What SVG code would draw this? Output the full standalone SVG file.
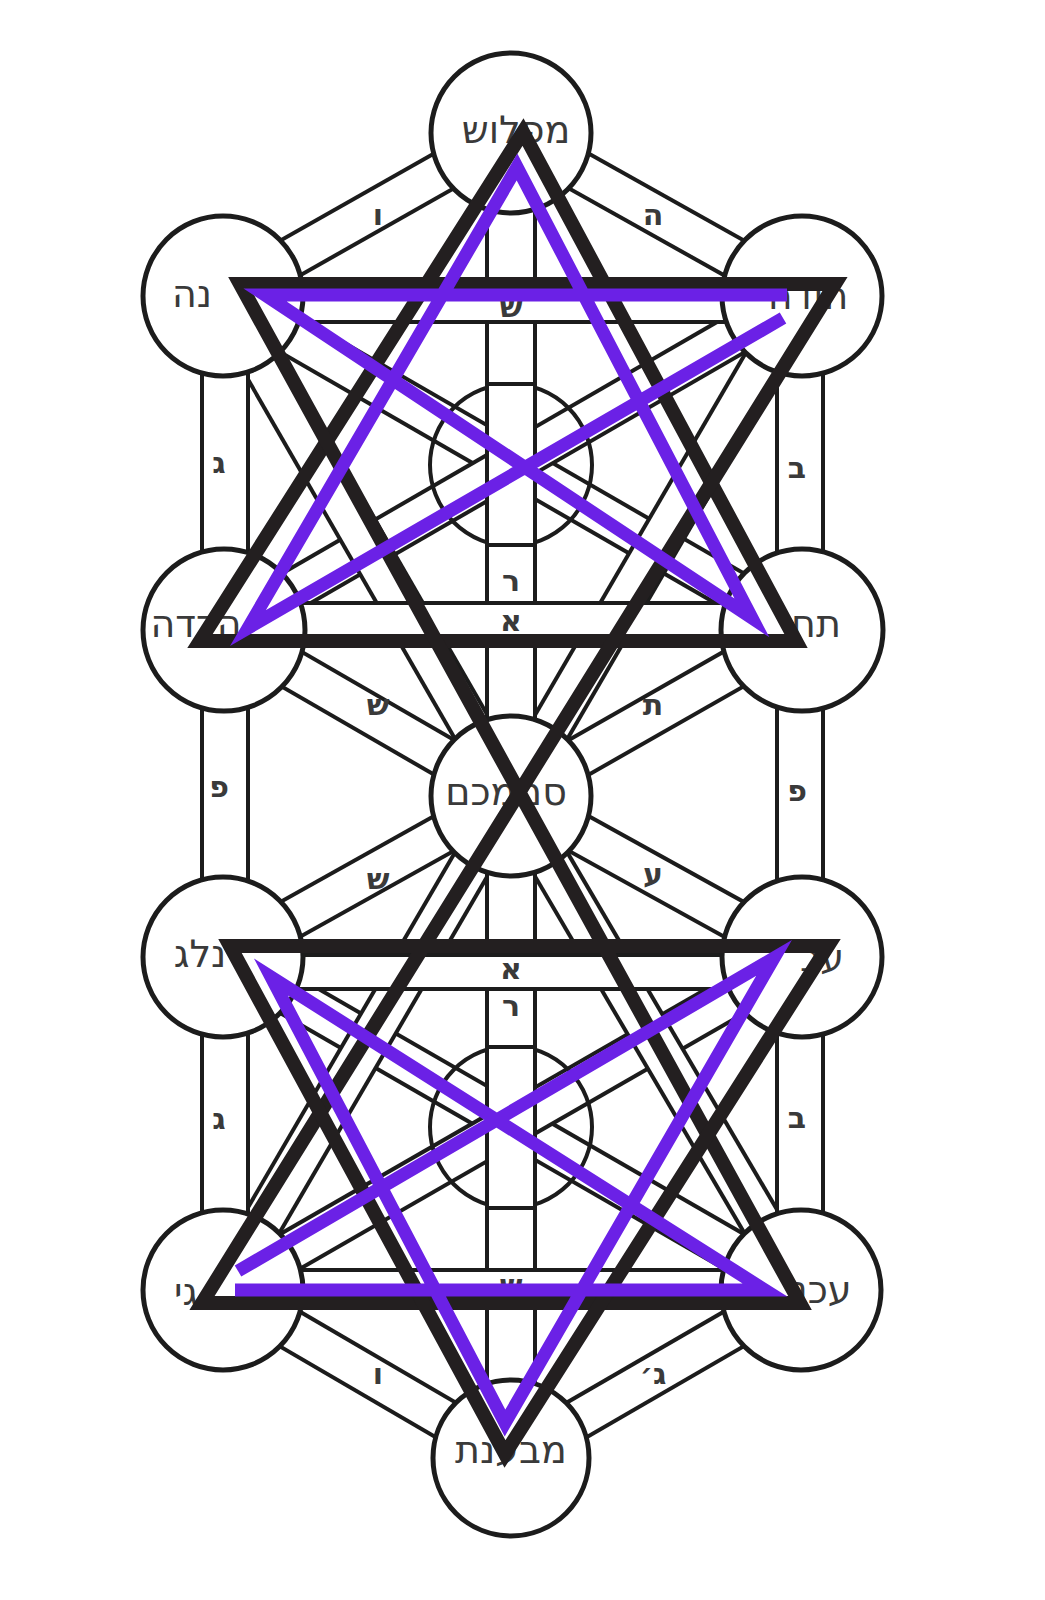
<svg xmlns="http://www.w3.org/2000/svg" width="1045" height="1600" viewBox="0 0 1045 1600">
<style>
.o{stroke:#1c1c1c;fill:none}
.i{stroke:#fff;fill:none}
.d .o{stroke-width:44}.d .i{stroke-width:36}
.v .o{stroke-width:50}.v .i{stroke-width:42}
.h .o{stroke-width:42}.h .i{stroke-width:34}
.s{fill:#fff;stroke:#1c1c1c;stroke-width:5}
.ic{fill:none;stroke:#1c1c1c;stroke-width:4}
.n{font-family:"DejaVu Sans","Liberation Sans",sans-serif;font-size:38px;fill:#3a3a3a;text-anchor:middle;dominant-baseline:central}
.l{font-family:"DejaVu Sans","Liberation Sans",sans-serif;font-size:30px;font-weight:bold;fill:#3a3a3a;text-anchor:middle;dominant-baseline:central}
.blk{fill:none;stroke:#231f20;stroke-width:14;stroke-linejoin:miter;stroke-miterlimit:6}
.pur{fill:none;stroke:#6b21e6;stroke-width:13;stroke-linejoin:miter;stroke-miterlimit:6;stroke-linecap:butt}
</style>
<rect width="1045" height="1600" fill="#fff"/>
<g id="connectors">
 <g class="d">
  <g id="p-ul-mr"><line class="o" x1="223" y1="296" x2="802" y2="630"/><line class="i" x1="223" y1="296" x2="802" y2="630"/></g>
  <g id="p-ur-ml"><line class="o" x1="802" y1="296" x2="224" y2="630"/><line class="i" x1="802" y1="296" x2="224" y2="630"/></g>
  <g id="p-ll-br"><line class="o" x1="223" y1="957" x2="801" y2="1290"/><line class="i" x1="223" y1="957" x2="801" y2="1290"/></g>
  <g id="p-lr-bl"><line class="o" x1="802" y1="957" x2="223" y2="1290"/><line class="i" x1="802" y1="957" x2="223" y2="1290"/></g>
  <g id="p-ul-c"><line class="o" x1="223" y1="296" x2="511" y2="796"/><line class="i" x1="223" y1="296" x2="511" y2="796"/></g>
  <g id="p-ur-c"><line class="o" x1="802" y1="296" x2="511" y2="796"/><line class="i" x1="802" y1="296" x2="511" y2="796"/></g>
  <g id="p-bl-c"><line class="o" x1="223" y1="1290" x2="511" y2="796"/><line class="i" x1="223" y1="1290" x2="511" y2="796"/></g>
  <g id="p-br-c"><line class="o" x1="801" y1="1290" x2="511" y2="796"/><line class="i" x1="801" y1="1290" x2="511" y2="796"/></g>
  <g id="p-ml-c"><line class="o" x1="224" y1="630" x2="511" y2="796"/><line class="i" x1="224" y1="630" x2="511" y2="796"/></g>
  <g id="p-mr-c"><line class="o" x1="802" y1="630" x2="511" y2="796"/><line class="i" x1="802" y1="630" x2="511" y2="796"/></g>
  <g id="p-ll-c"><line class="o" x1="223" y1="957" x2="511" y2="796"/><line class="i" x1="223" y1="957" x2="511" y2="796"/></g>
  <g id="p-lr-c"><line class="o" x1="802" y1="957" x2="511" y2="796"/><line class="i" x1="802" y1="957" x2="511" y2="796"/></g>
  <g id="p-t-ul"><line class="o" x1="511" y1="133" x2="223" y2="296"/><line class="i" x1="511" y1="133" x2="223" y2="296"/></g>
  <g id="p-t-ur"><line class="o" x1="511" y1="133" x2="802" y2="296"/><line class="i" x1="511" y1="133" x2="802" y2="296"/></g>
  <g id="p-bl-b"><line class="o" x1="223" y1="1290" x2="511" y2="1458"/><line class="i" x1="223" y1="1290" x2="511" y2="1458"/></g>
  <g id="p-br-b"><line class="o" x1="801" y1="1290" x2="511" y2="1458"/><line class="i" x1="801" y1="1290" x2="511" y2="1458"/></g>
 </g>
 <circle class="ic" cx="511" cy="465" r="81"/>
 <circle class="ic" cx="511" cy="1127" r="81"/>
 <g id="p-center">
  <rect x="487" y="150" width="48" height="1290" fill="#fff" stroke="#1c1c1c" stroke-width="4"/>
  <line x1="487" y1="384" x2="535" y2="384" stroke="#1c1c1c" stroke-width="4"/>
  <line x1="487" y1="545" x2="535" y2="545" stroke="#1c1c1c" stroke-width="4"/>
  <line x1="487" y1="1047" x2="535" y2="1047" stroke="#1c1c1c" stroke-width="4"/>
  <line x1="487" y1="1208" x2="535" y2="1208" stroke="#1c1c1c" stroke-width="4"/>
 </g>
 <g class="v">
  <g id="p-ul-ml"><line class="o" x1="225" y1="296" x2="225" y2="630"/><line class="i" x1="225" y1="296" x2="225" y2="630"/></g>
  <g id="p-ml-ll"><line class="o" x1="225" y1="630" x2="225" y2="957"/><line class="i" x1="225" y1="630" x2="225" y2="957"/></g>
  <g id="p-ll-bl"><line class="o" x1="225" y1="957" x2="225" y2="1290"/><line class="i" x1="225" y1="957" x2="225" y2="1290"/></g>
  <g id="p-ur-mr"><line class="o" x1="800" y1="296" x2="800" y2="630"/><line class="i" x1="800" y1="296" x2="800" y2="630"/></g>
  <g id="p-mr-lr"><line class="o" x1="800" y1="630" x2="800" y2="957"/><line class="i" x1="800" y1="630" x2="800" y2="957"/></g>
  <g id="p-lr-br"><line class="o" x1="800" y1="957" x2="800" y2="1290"/><line class="i" x1="800" y1="957" x2="800" y2="1290"/></g>
 </g>
 <g class="h">
  <g id="p-ul-ur"><line class="o" x1="223" y1="303" x2="802" y2="303"/><line class="i" x1="223" y1="303" x2="802" y2="303"/></g>
  <g id="p-bl-br"><line class="o" x1="223" y1="1289" x2="802" y2="1289"/><line class="i" x1="223" y1="1289" x2="802" y2="1289"/></g>
 </g>
 <g>
  <g id="p-ml-mr"><line class="o" x1="224" y1="620" x2="802" y2="620" stroke-width="38"/><line class="i" x1="224" y1="620" x2="802" y2="620" stroke-width="30"/></g>
  <g id="p-ll-lr"><line class="o" x1="224" y1="972" x2="802" y2="972" stroke-width="38"/><line class="i" x1="224" y1="972" x2="802" y2="972" stroke-width="30"/></g>
 </g>
 <g id="path-letters">
  <text class="l" x="378" y="214">ו</text>
  <text class="l" x="653" y="214">ה</text>
  <text class="l" x="219" y="462">ג</text>
  <text class="l" x="797" y="467">ב</text>
  <text class="l" x="219" y="786">פ</text>
  <text class="l" x="797" y="790">פ</text>
  <text class="l" x="219" y="1118">ג</text>
  <text class="l" x="797" y="1117">ב</text>
  <text class="l" x="378" y="1373">ו</text>
  <text class="l" x="653" y="1373">ג׳</text>
  <text class="l" x="378" y="704">ש</text>
  <text class="l" x="653" y="704">ת</text>
  <text class="l" x="378" y="878">ש</text>
  <text class="l" x="653" y="873">ע</text>
  <text class="l" x="511" y="306">ש</text>
  <text class="l" x="511" y="580">ר</text>
  <text class="l" x="511" y="620">א</text>
  <text class="l" x="511" y="968">א</text>
  <text class="l" x="511" y="1005">ר</text>
  <text class="l" x="511" y="1284">ש</text>
 </g>
</g>
<g id="n-top"><circle class="s" cx="511" cy="133" r="80"/><text class="n" x="516" y="130">מפלוש</text></g>
<g id="n-ul"><circle class="s" cx="223" cy="296" r="80"/><text class="n" x="192" y="294">נה</text></g>
<g id="n-ur"><circle class="s" cx="802" cy="296" r="80"/><text class="n" x="808" y="296">הודה</text></g>
<g id="n-ml"><circle class="s" cx="224" cy="630" r="81"/><text class="n" x="196" y="624">הדדה</text></g>
<g id="n-mr"><circle class="s" cx="802" cy="630" r="81"/><text class="n" x="816" y="624">תח</text></g>
<g id="n-c"><circle class="s" cx="511" cy="796" r="80"/><text class="n" x="506" y="792">סממכם</text></g>
<g id="n-ll"><circle class="s" cx="223" cy="957" r="80"/><text class="n" x="200" y="954">נלג</text></g>
<g id="n-lr"><circle class="s" cx="802" cy="957" r="80"/><text class="n" x="822" y="958">עכ</text></g>
<g id="n-bl"><circle class="s" cx="223" cy="1290" r="80"/><text class="n" x="186" y="1292">גי</text></g>
<g id="n-br"><circle class="s" cx="801" cy="1290" r="80"/><text class="n" x="822" y="1290">עכנ</text></g>
<g id="n-b"><circle class="s" cx="511" cy="1458" r="78"/><text class="n" x="511" y="1450">מבענת</text></g>
<g id="hexagram">
 <polygon class="blk" points="523,132 200,641 796,641"/>
 <polygon class="blk" points="240,284 835,284 202,1303 800,1303"/>
 <polygon class="blk" points="230,946 828,946 505,1454"/>
</g>
<g id="pentagrams">
 <polyline class="pur" points="787,295 265,295 752,618 517,167 248,628 783,318"/>
 <polyline class="pur" points="238,1271 774,958 505,1423 271,977 765,1290 235,1290"/>
</g>
</svg>
